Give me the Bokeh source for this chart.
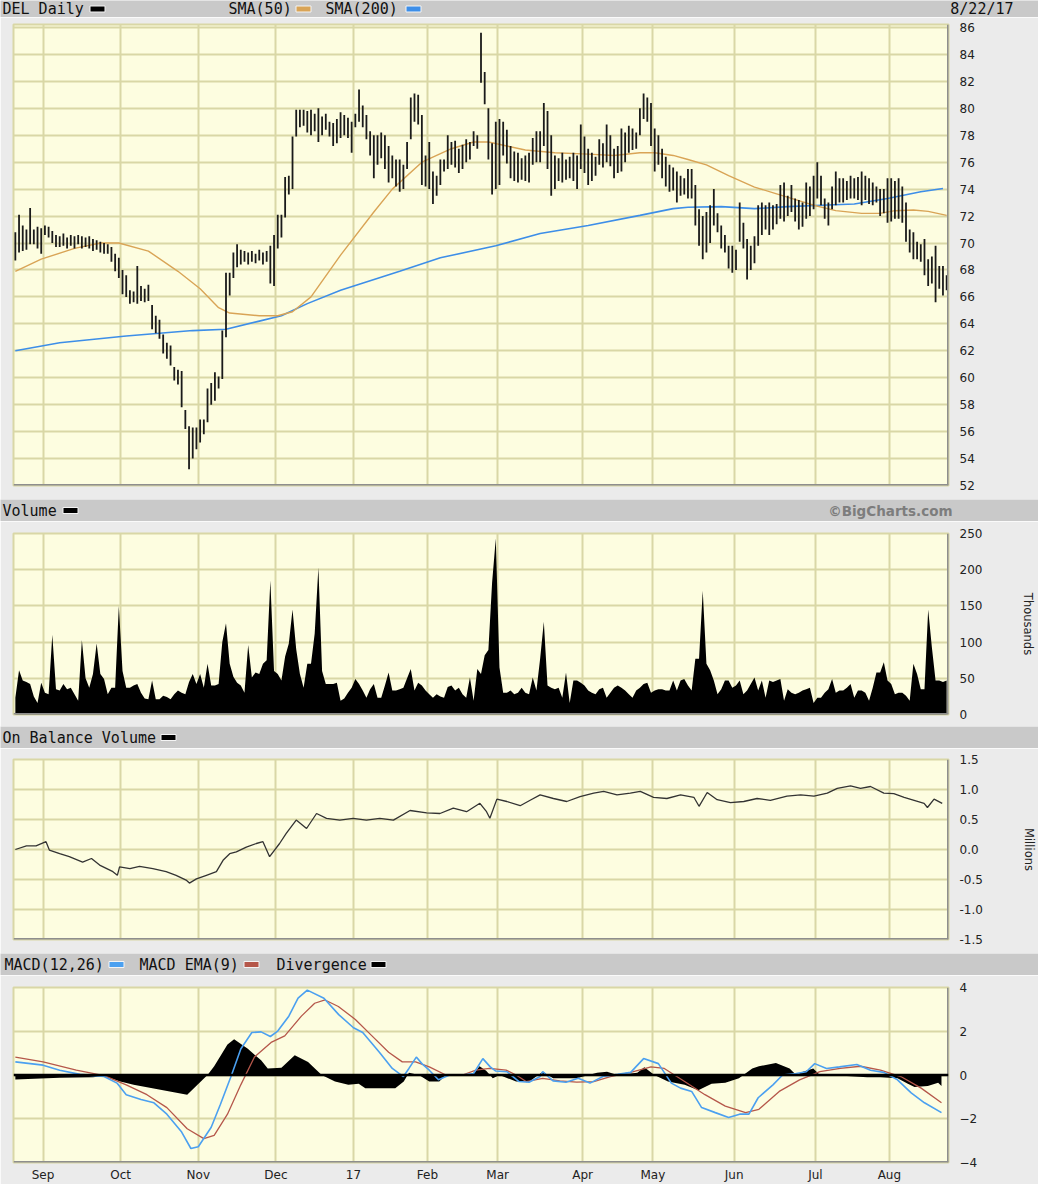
from bokeh.plotting import figure
from bokeh.layouts import column
from bokeh.models import FixedTicker, Span, NumeralTickFormatter
from bokeh.core.properties import value
from bokeh.embed import file_html
from bokeh.resources import INLINE

# ---------------- data (trading-day index 0 = 2016-08-22 ... 252 = 2017-08-22) ----------------
month_first_day = [8, 29, 50, 71, 92, 112, 131, 154, 173, 195, 217, 237]
month_labels = ["Sep", "Oct", "Nov", "Dec", "17", "Feb", "Mar", "Apr", "May", "Jun", "Jul", "Aug"]

high = [
    70.8, 72.1, 71.3, 71.0, 72.6, 71.0, 71.2, 71.1,
    71.3, 71.2, 70.9, 70.6, 70.5, 70.7, 70.4, 70.6, 70.5, 70.6, 70.5, 70.4, 70.5, 70.3, 70.2, 70.1, 70.0, 69.9, 69.7, 69.2, 68.9,
    68.0, 67.6, 66.5, 66.4, 68.3, 66.8, 66.6, 66.9, 65.4, 64.6, 64.3, 63.2, 62.6, 62.4, 60.8, 60.6, 60.5, 57.6, 56.4, 56.3, 56.3,
    56.9, 56.9, 59.2, 59.6, 60.4, 60.1, 63.5, 67.8, 67.8, 69.3, 69.9, 69.5, 69.4, 69.3, 69.4, 69.2, 69.5, 69.3, 69.4, 69.8, 70.6,
    72.1, 72.1, 74.9, 75.0, 77.9, 79.9, 79.9, 79.9, 79.8, 79.9, 79.6, 80.0, 79.4, 79.6, 79.0, 78.9, 79.2, 79.7, 79.5, 79.3, 79.0,
    79.6, 81.4, 80.2, 79.5, 78.3, 78.0, 78.0, 78.2, 78.0, 77.2, 76.5, 76.2, 76.2, 75.8, 77.5, 80.8, 81.1, 81.0, 79.5, 76.5,
    77.5, 75.3, 75.0, 76.2, 76.2, 78.0, 77.5, 77.6, 77.0, 77.3, 77.7, 77.5, 78.3, 78.0, 85.6, 82.7, 80.0, 77.4, 79.0,
    79.2, 79.0, 78.4, 77.2, 76.8, 76.7, 76.3, 76.5, 76.7, 77.8, 78.3, 78.3, 80.4, 79.8, 78.0, 76.5, 76.3, 76.7, 76.2, 76.4, 76.7, 76.5, 78.8,
    77.9, 77.0, 76.7, 76.4, 77.7, 77.4, 78.8, 78.0, 77.0, 77.2, 78.5, 78.2, 78.7, 78.5, 78.2, 80.0, 81.1, 80.8, 80.4,
    78.5, 78.0, 77.0, 76.4, 75.8, 75.6, 75.3, 75.0, 74.8, 75.5, 75.5, 74.3, 72.5, 72.0, 72.3, 72.8, 74.0, 72.2, 71.3, 70.6, 69.8, 69.8,
    69.5, 73.0, 71.5, 70.3, 69.8, 70.5, 72.8, 73.0, 72.8, 73.0, 72.8, 72.9, 74.3, 74.5, 73.5, 74.3, 73.3, 73.2, 73.0, 74.5, 74.2, 75.0,
    76.0, 75.0, 73.3, 73.0, 74.2, 75.3, 74.8, 74.8, 74.6, 75.0, 74.8, 74.9, 75.3, 75.0, 74.8, 74.5, 74.2, 74.0, 74.0, 74.8,
    74.8, 74.6, 74.8, 74.2, 73.0, 71.0, 70.8, 70.1, 69.9, 70.3, 68.8, 69.0, 69.8, 68.3, 68.3, 67.6,
]
low = [
    68.7, 69.3, 69.4, 69.5, 69.9, 69.9, 69.6, 69.2,
    70.6, 70.4, 70.0, 69.7, 69.7, 69.8, 69.6, 69.8, 69.6, 69.9, 69.6, 69.7, 69.6, 69.4, 69.5, 69.3, 69.2, 69.2, 68.6, 67.9, 67.4,
    66.2, 66.0, 65.5, 65.6, 65.5, 65.7, 65.6, 65.7, 63.6, 63.3, 62.9, 61.8, 61.4, 60.9, 59.8, 59.5, 57.8, 56.2, 53.2, 54.0, 54.7,
    55.2, 55.8, 56.7, 58.0, 58.3, 59.2, 59.9, 63.0, 66.1, 67.4, 68.2, 68.4, 68.6, 68.4, 68.6, 68.5, 68.7, 68.4, 68.6, 67.0, 66.8,
    69.6, 70.4, 71.9, 73.6, 74.0, 77.9, 78.6, 78.7, 78.2, 78.0, 78.3, 77.5, 78.0, 78.4, 77.9, 77.2, 77.4, 77.8, 78.0, 77.8, 76.7,
    78.6, 79.0, 78.6, 77.7, 76.5, 74.8, 75.8, 76.3, 75.5, 74.5, 74.8, 74.2, 73.8, 74.0, 75.5, 77.7, 79.0, 78.8, 74.3, 74.2,
    74.0, 72.9, 73.5, 74.3, 75.3, 75.5, 75.8, 75.6, 75.2, 75.5, 76.0, 76.2, 77.2, 77.0, 81.9, 80.3, 76.2, 73.6, 74.0,
    74.3, 76.5, 75.9, 74.8, 74.6, 74.5, 74.7, 74.6, 74.5, 75.8, 76.0, 76.0, 77.2, 75.5, 73.5, 74.0, 74.6, 74.5, 74.7, 74.8, 74.6, 74.0, 75.5,
    75.2, 74.3, 74.6, 75.0, 75.8, 75.6, 76.0, 75.7, 74.8, 75.2, 75.3, 76.0, 76.7, 76.9, 77.0, 78.0, 79.2, 79.0, 77.2,
    75.3, 75.8, 74.8, 74.2, 73.8, 73.9, 73.0, 73.5, 73.6, 73.3, 73.3, 71.3, 69.8, 68.8, 69.3, 70.0, 71.3, 70.8, 69.6, 69.3, 68.1, 67.8,
    68.0, 70.1, 69.6, 67.3, 68.0, 68.5, 69.8, 70.6, 71.0, 70.6, 71.0, 71.4, 71.8, 71.6, 72.0, 72.3, 71.6, 71.0, 71.2, 71.8, 72.0, 72.5,
    73.3, 72.8, 71.8, 71.3, 72.5, 72.8, 73.0, 73.0, 73.2, 73.3, 73.3, 73.2, 72.8, 73.2, 72.9, 72.8, 73.0, 72.0, 72.2, 71.5,
    71.6, 71.8, 71.8, 71.5, 70.1, 69.3, 68.8, 68.8, 68.6, 67.6, 66.8, 67.0, 65.6, 66.6, 66.1, 66.5,
]

sma50_day = [0, 7, 16, 23, 28, 36, 44, 50, 55, 58, 66, 71, 75, 80, 88, 97, 102, 110, 118, 124, 128, 133, 138, 146, 155,
             162, 169, 173, 178, 182, 187, 193, 200, 206, 212, 216, 222, 229, 234, 238, 243, 247, 252]
sma50_val = [67.9, 68.8, 69.6, 70.0, 70.0, 69.4, 67.9, 66.6, 65.2, 64.8, 64.6, 64.6, 64.9, 66.0, 69.1, 72.3, 74.0, 76.0,
             77.0, 77.5, 77.5, 77.2, 76.9, 76.7, 76.6, 76.5, 76.7, 76.7, 76.5, 76.2, 75.8, 75.0, 74.15, 73.65, 73.15, 72.8,
             72.4, 72.2, 72.2, 72.4, 72.45, 72.35, 72.05]
sma200_day = [0, 12, 30, 39, 48, 57, 66, 72, 79, 88, 104, 115, 130, 142, 155, 169, 178, 182, 191, 200, 209, 218, 227, 236, 245, 251]
sma200_val = [62.0, 62.6, 63.1, 63.3, 63.5, 63.6, 64.2, 64.6, 65.5, 66.5, 67.9, 68.9, 69.8, 70.7, 71.3, 72.05, 72.55, 72.65,
              72.7, 72.55, 72.7, 72.8, 72.9, 73.3, 73.8, 74.05]

volume_k = [
    23, 61, 47, 45, 42, 25, 16, 44, 30, 28,
    110, 35, 33, 42, 35, 37, 28, 19, 103, 50,
    37, 56, 98, 56, 49, 28, 37, 37, 150, 60,
    37, 37, 40, 42, 30, 22, 21, 47, 21, 21,
    26, 24, 21, 28, 33, 30, 28, 45, 56, 42,
    56, 37, 70, 40, 40, 42, 100, 126, 70, 52,
    44, 40, 30, 96, 51, 58, 56, 70, 75, 185,
    60, 56, 47, 80, 98, 145, 90, 56, 37, 70,
    70, 112, 203, 60, 42, 42, 42, 44, 19, 22,
    30, 37, 49, 42, 33, 23, 35, 42, 23, 23,
    40, 58, 33, 33, 35, 37, 50, 63, 33, 44,
    40, 33, 28, 23, 28, 25, 23, 38, 40, 33,
    37, 28, 23, 51, 19, 63, 56, 82, 89, 182,
    243, 65, 30, 30, 33, 28, 30, 37, 30, 28,
    51, 33, 77, 128, 40, 37, 35, 37, 23, 58,
    16, 47, 47, 44, 40, 33, 30, 28, 35, 37,
    23, 30, 37, 40, 37, 33, 28, 23, 33, 37,
    42, 44, 30, 33, 35, 35, 33, 33, 47, 33,
    47, 49, 40, 33, 77, 77, 171, 70, 61, 47,
    28, 35, 47, 47, 37, 40, 47, 28, 33, 42,
    51, 33, 47, 23, 47, 45, 47, 49, 19, 35,
    30, 28, 30, 33, 35, 37, 16, 23, 23, 30,
    35, 49, 30, 33, 33, 37, 42, 23, 33, 33,
    30, 19, 37, 58, 58, 72, 47, 42, 28, 30,
    30, 26, 19, 70, 56, 35, 35, 145, 93, 47,
    47, 45, 47,
]

obv_day = [0, 3, 5.6, 8.3, 9.2, 12, 14.6, 18.2, 20.6, 22.8, 26.4, 27.6, 28.2, 31, 33.6, 37.2, 40.8, 43.5, 46.2, 47.1,
           49, 51.7, 54.4, 56.2, 58, 59.8, 62.5, 65.2, 67, 68.8, 71.5, 73.3, 76, 78.8, 81.5, 84.2, 87.8, 91.4, 95, 98.6,
           102.3, 106.8, 111.3, 114.9, 118.5, 122.1, 125.7, 127.5, 128.4, 130.3, 133, 136.6, 139.3, 142, 145.6, 149.2,
           152.8, 156.5, 159.2, 162.8, 166.4, 169.1, 172.7, 176.3, 180, 183.6, 185, 187.2, 189.9, 193.5, 197.1, 200.7,
           204.3, 208.8, 212.5, 216.1, 219.7, 222.4, 226, 228.7, 231.4, 235, 237.7, 240.5, 243.2, 245.9, 246.8, 248.6, 250.8]
obv_mil = [0.0, 0.06, 0.06, 0.13, -0.01, -0.07, -0.12, -0.21, -0.15, -0.26, -0.37, -0.43, -0.29, -0.32, -0.28, -0.32,
           -0.37, -0.43, -0.51, -0.56, -0.49, -0.43, -0.37, -0.18, -0.07, -0.04, 0.04, 0.10, 0.13, -0.12, 0.10, 0.27,
           0.49, 0.35, 0.60, 0.52, 0.49, 0.52, 0.49, 0.52, 0.49, 0.65, 0.61, 0.60, 0.69, 0.63, 0.77, 0.63, 0.52, 0.84,
           0.80, 0.73, 0.82, 0.91, 0.85, 0.80, 0.88, 0.94, 0.97, 0.91, 0.94, 0.97, 0.87, 0.85, 0.91, 0.87, 0.72, 0.95,
           0.83, 0.78, 0.80, 0.85, 0.82, 0.89, 0.91, 0.89, 0.94, 1.02, 1.06, 1.02, 1.05, 0.94, 0.93, 0.87, 0.82, 0.77,
           0.70, 0.84, 0.77]

macd_day = [0, 7.5, 12, 17.5, 24, 27.5, 30, 34, 37.5, 41, 45, 47.5, 49.5, 53, 55.5, 58.5, 61, 64, 66.5, 69, 71, 74,
            76.5, 79, 83.5, 87.5, 91.5, 94, 98.5, 102, 105, 106.5, 108.5, 110, 112, 114.5, 117.5, 121, 124, 126.5,
            128.5, 130, 133, 136.3, 139, 142, 142.7, 145.5, 149, 152.3, 155.5, 159, 163, 166.5, 170, 174, 177.5, 180,
            183, 185.7, 189.4, 193, 196, 198.5, 201, 205, 207.6, 211.3, 214, 216.3, 219.5, 223, 227.7, 231.4, 235,
            238.7, 242.4, 246, 250.6]
macd_val = [0.60, 0.45, 0.22, 0.03, -0.07, -0.37, -0.9, -1.12, -1.27, -1.79, -2.61, -3.36, -3.28, -2.39, -1.34, 0.0,
            1.19, 1.94, 1.97, 1.76, 2.01, 2.69, 3.51, 3.88, 3.51, 2.76, 2.16, 1.94, 1.04, 0.30, -0.07, 0.30, 0.82, 0.52,
            0.22, -0.22, 0.0, 0.0, 0.07, 0.75, 0.37, 0.18, 0.15, -0.3, -0.33, -0.07, 0.15, -0.27, -0.33, -0.15, -0.37,
            -0.07, 0.03, 0.12, 0.75, 0.52, -0.37, -0.60, -0.75, -1.49, -1.72, -1.94, -1.79, -1.79, -1.04, -0.45, 0.0,
            0.07, 0.15, 0.52, 0.30, 0.37, 0.48, 0.22, 0.12, -0.22, -0.82, -1.27, -1.72]
signal_day = [0, 7.5, 16.5, 24, 30, 35.6, 41, 46.5, 51, 53.8, 57.4, 61, 64.7, 69.2, 72.9, 77.4, 81, 83.8, 87.4, 92,
              96.5, 101, 104.7, 108.3, 112, 116.5, 121, 124.6, 128.3, 132.8, 135.5, 138.2, 142.7, 147.3, 151.9, 156.5,
              161, 166.5, 172, 175.6, 181.1, 186.6, 192.1, 197.6, 201.2, 206.7, 212.2, 217.7, 223.2, 228.7, 234.1,
              239.6, 245.1, 250.6]
signal_val = [0.82, 0.60, 0.22, -0.03, -0.45, -0.90, -1.49, -2.46, -2.91, -2.76, -1.79, -0.45, 0.82, 1.49, 1.79, 2.69,
              3.28, 3.43, 3.13, 2.54, 1.79, 1.04, 0.60, 0.60, 0.37, 0.0, 0.0, 0.22, 0.30, 0.22, 0.0, -0.30, -0.15,
              -0.27, -0.33, -0.30, -0.07, 0.12, 0.37, 0.30, -0.30, -0.90, -1.42, -1.72, -1.57, -0.75, -0.22, 0.15, 0.30,
              0.40, 0.22, -0.07, -0.60, -1.27]
div_day = [0, 12, 21, 24, 28.4, 32, 46.5, 52, 53.8, 57.4, 59.2, 62.9, 66.5, 68.3, 72, 75.6, 79.2, 82.9, 86.5, 90.1,
           92.9, 94.7, 102.8, 105.1, 106.5, 109.2, 112, 114.7, 116.5, 123.7, 125.6, 127.4, 129.2, 131, 135.5, 139.1,
           142.7, 145.5, 151.9, 157.4, 160.1, 162.9, 168.3, 170.2, 172.9, 176.6, 181.1, 184.8, 188.4, 192.1, 195.8,
           199.4, 201.2, 205.8, 209.5, 211.3, 213.1, 215.9, 217.7, 225, 230.5, 234.1, 238.7, 241.5, 243.3, 246.9,
           249.7, 250.6]
div_val = [-0.2, -0.12, -0.1, -0.05, -0.3, -0.45, -0.9, 0.0, 0.4, 1.4, 1.63, 1.2, 0.67, 0.3, 0.33, 0.9, 0.6, 0.0, -0.3,
           -0.45, -0.4, -0.6, -0.6, -0.3, 0.1, 0.0, -0.3, -0.3, 0.0, 0.0, 0.4, 0.2, -0.15, 0.0, -0.3, -0.3, 0.15, -0.15,
           -0.15, 0.1, 0.15, 0.0, 0.1, 0.35, 0.0, -0.3, -0.45, -0.7, -0.4, -0.35, -0.15, 0.3, 0.4, 0.55, 0.3, 0.0, 0.15,
           0.3, 0.0, -0.05, -0.1, -0.1, -0.15, -0.4, -0.55, -0.5, -0.35, -0.5]

price_ticks = [52, 54, 56, 58, 60, 62, 64, 66, 68, 70, 72, 74, 76, 78, 80, 82, 84, 86]
volume_ticks = [0, 50, 100, 150, 200, 250]
obv_ticks = [-1.5, -1.0, -0.5, 0.0, 0.5, 1.0, 1.5]
macd_ticks = [-4, -2, 0, 2, 4]

# ---------------- styling ----------------
W = 1038
PAGE = "#ebebeb"
HEAD = "#c9c9c9"
PLOT_BG = "#fdfde0"
GRID = "#d9d7a6"
MONO = "DejaVu Sans Mono"
SANS = "DejaVu Sans"
C_SMA50 = "#d9a456"
C_SMA200 = "#3d8ee8"
C_MACD = "#4ba0f0"
C_SIGNAL = "#b5574a"

days = list(range(len(high)))
month_ticks = [d - 0.5 for d in month_first_day]
X_RANGE = (-0.5, len(high) - 0.5)


def header(h, texts, swatches, right_text=None, right_style=None):
    p = figure(width=W, height=h, x_range=(0, W), y_range=(0, h), output_backend="svg",
               toolbar_location=None, x_axis_location=None, y_axis_location=None, min_border=0,
               background_fill_color=HEAD, border_fill_color=HEAD, outline_line_color=None)
    p.frame_align = False
    p.xgrid.visible = False
    p.ygrid.visible = False
    cy = h - 11 if h > 18 else h - 8.5
    p.text(x=[t[0] for t in texts], y=[cy] * len(texts), text=[t[1] for t in texts],
           text_font=value(MONO), text_font_size="15px", text_baseline="middle", text_color="#111111")
    p.rect(x=[s[0] for s in swatches], y=[cy] * len(swatches), width=15, height=6,
           fill_color=[s[1] for s in swatches], line_color="#f4f4f4", line_width=1)
    if right_text:
        x, txt = right_text
        st = right_style or {}
        p.text(x=[x], y=[cy], text=[txt], text_align="right", text_baseline="middle",
               text_font=value(st.get("font", MONO)), text_font_size=st.get("size", "15px"),
               text_font_style=st.get("style", "normal"), text_color=st.get("color", "#111111"))
    return p


def panel(h, top, bottom, yr, yticks, xaxis=False):
    p = figure(width=W, height=h, x_range=X_RANGE, y_range=yr, output_backend="svg",
               toolbar_location=None, x_axis_location="below" if xaxis else None, y_axis_location="right",
               min_border_left=13, min_border_right=86, min_border_top=top, min_border_bottom=bottom,
               background_fill_color=PLOT_BG, border_fill_color=PAGE,
               outline_line_color=GRID, outline_line_width=2)
    p.yaxis.ticker = FixedTicker(ticks=yticks)
    p.xgrid.ticker = FixedTicker(ticks=month_ticks)
    for g in list(p.xgrid) + list(p.ygrid):
        g.grid_line_color = GRID
        g.grid_line_width = 2
        g.grid_line_alpha = 1.0
    ya = p.yaxis[0]
    ya.axis_line_color = None
    ya.major_tick_line_color = None
    ya.minor_tick_line_color = None
    ya.major_tick_out = 0
    ya.major_label_standoff = 11
    ya.major_label_text_font = SANS
    ya.major_label_text_font_size = "12px"
    ya.major_label_text_color = "#222222"
    ya.axis_label_text_font = SANS
    ya.axis_label_text_font_size = "11.5px"
    ya.axis_label_text_font_style = "normal"
    ya.axis_label_text_color = "#222222"
    ya.axis_label_standoff = 36
    # darker shadow on bottom and right edge of the plot frame
    p.add_layout(Span(location=yr[0], dimension="width", line_color="#8e8e8e", line_width=3))
    p.add_layout(Span(location=X_RANGE[1], dimension="height", line_color="#8e8e8e", line_width=3))
    return p


# ---------------- header 1 + price ----------------
h1 = header(17, [(2, "DEL Daily"), (228, "SMA(50)"), (325, "SMA(200)")],
            [(97, "#000000"), (303, C_SMA50), (413, C_SMA200)], right_text=(1013, "8/22/17"))

pp = panel(482, 7, 14, (52, 86.22), price_ticks)
pp.line(sma200_day, sma200_val, line_color=C_SMA200, line_width=1.6)
pp.line(sma50_day, sma50_val, line_color=C_SMA50, line_width=1.4)
pp.segment(x0=days, y0=low, x1=days, y1=high, line_color="#1a1a1a", line_width=1.8)

# ---------------- header 2 + volume ----------------
h2 = header(22, [(2, "Volume")], [(70, "#000000")], right_text=(952, "©BigCharts.com"),
            right_style={"font": SANS, "size": "13.5px", "style": "bold", "color": "#7d7d7d"})

pv = panel(205, 12, 12, (0, 250), volume_ticks)
pv.yaxis[0].axis_label = "Thousands"
pv.varea(x=days, y1=0, y2=volume_k, fill_color="#000000")

# ---------------- header 3 + OBV ----------------
h3 = header(22, [(2, "On Balance Volume")], [(168, "#000000")])

po = panel(205, 11, 14, (-1.5, 1.5), obv_ticks)
po.yaxis[0].axis_label = "Millions"
po.yaxis[0].formatter = NumeralTickFormatter(format="0.0")
po.line(obv_day, obv_mil, line_color="#333333", line_width=1.3)

# ---------------- header 4 + MACD ----------------
h4 = header(22, [(4, "MACD(12,26)"), (139, "MACD EMA(9)"), (276, "Divergence")],
            [(116, C_MACD), (251, C_SIGNAL), (378, "#000000")])

pm = panel(209, 12, 20, (-4, 4), macd_ticks, xaxis=True)
pm.varea(x=div_day, y1=0, y2=div_val, fill_color="#000000")
pm.add_layout(Span(location=0, dimension="width", line_color="#000000", line_width=2.5))
pm.line(signal_day, signal_val, line_color=C_SIGNAL, line_width=1.3)
pm.line(macd_day, macd_val, line_color=C_MACD, line_width=1.6)
xa = pm.xaxis[0]
xa.ticker = FixedTicker(ticks=month_ticks)
xa.major_label_overrides = {t: lab for t, lab in zip(month_ticks, month_labels)}
xa.axis_line_color = None
xa.major_tick_line_color = None
xa.minor_tick_line_color = None
xa.major_tick_out = 0
xa.major_label_standoff = 5
xa.major_label_text_font = SANS
xa.major_label_text_font_size = "12px"
xa.major_label_text_color = "#222222"

layout = column(h1, pp, h2, pv, h3, po, h4, pm, spacing=0)
open("out.html", "w").write(file_html(layout, INLINE))
